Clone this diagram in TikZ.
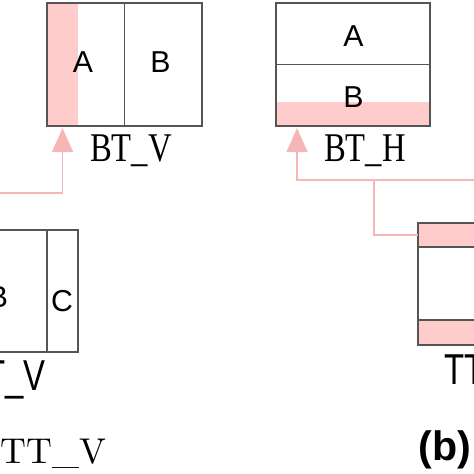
\documentclass[tikz,border=0pt]{standalone}
\usepackage{fontspec}
\usetikzlibrary{arrows.meta}
\newfontfamily\cellfont{Liberation Sans}
\newfontfamily\tagsans[FakeStretch=0.76]{Liberation Sans}
\newfontfamily\tagserif[FakeStretch=0.8]{Liberation Serif}
\definecolor{markpink}{RGB}{255,204,204}
\definecolor{linkpink}{RGB}{246,182,182}
\definecolor{framegray}{RGB}{85,85,85}
\tikzset{
  frame/.style={draw=framegray, line width=0.4pt, inner sep=0pt, outer sep=0pt, anchor=north west},
  tint/.style={fill=markpink, inner sep=0pt, outer sep=0pt, anchor=north west},
  letter/.style={font=\cellfont\fontsize{8.6}{10}\selectfont, inner sep=0pt},
  serif tag/.style={font=\tagserif\fontsize{11.6}{13}\selectfont, inner sep=0pt},
  sans tag/.style={font=\tagsans\fontsize{12.3}{14}\selectfont, inner sep=0pt},
  link/.style={draw=linkpink, line width=0.45pt},
}
\begin{document}
\begin{tikzpicture}[x=0.01cm, y=-0.01cm]
  \useasboundingbox (0,0) rectangle (474,474);
  \clip (0,0) rectangle (474,474);
  \node[tint, minimum width=0.31cm, minimum height=1.23cm] (btvmark) at (47,3) {};
  \node[tint, minimum width=1.54cm, minimum height=0.24cm] (bthmark) at (276,102) {};
  \node[tint, minimum width=1.6cm, minimum height=0.24cm] (tthtop) at (418,223) {};
  \node[tint, minimum width=1.6cm, minimum height=0.25cm] (tthbot) at (418,320) {};
  \node[frame, minimum width=1.55cm, minimum height=1.23cm] (btv) at (47,3) {};
  \node[frame, minimum width=1.54cm, minimum height=1.23cm] (bth) at (276,3) {};
  \node[frame, minimum width=1.58cm, minimum height=1.22cm] (ttv) at (-80,230) {};
  \node[frame, minimum width=1.6cm, minimum height=1.22cm] (tth) at (418,223) {};
  \draw[framegray, line width=0.4pt] (btv.north) -- (btv.south);
  \draw[framegray, line width=0.4pt] (bth.west) -- (bth.east);
  \draw[framegray, line width=0.4pt] (47,230) -- (47,352);
  \draw[framegray, line width=0.4pt] (tthtop.south west) -- (tthtop.south east);
  \draw[framegray, line width=0.4pt] (tthbot.north west) -- (tthbot.north east);
  \foreach \name/\px/\py/\txt in {btvA/83/62/A, btvB/160.5/62.5/B, bthA/353.5/36/A, bthB/353.5/97/B, ttvB/-2/297/B, ttvC/62/301/C}
    \node[letter] (\name) at (\px,\py) {\txt};
  \node[serif tag, anchor=base] (btvtag) at (131,162) {BT\_V};
  \node[serif tag, anchor=base] (bthtag) at (365,162) {BT\_H};
  \node[sans tag, anchor=base east] (ttvtag) at (46,390) {TT\_V};
  \node[sans tag, anchor=base west] (tthtag) at (444,384) {TT\_H};
  \node[font=\fontsize{10.2}{12}\selectfont, inner sep=0pt, anchor=base west] (caption) at (0,463) {TT\_V};
  \node[font=\cellfont\bfseries\fontsize{11.7}{13}\selectfont, inner sep=0pt, anchor=base] (panel) at (445,460) {(b)};
  \coordinate (tailV) at (-10,193);
  \coordinate (join) at (374,180);
  \coordinate (tailR) at (490,180);
  \draw[link, -{Triangle[width=0.21cm,length=0.24cm]}, shorten >=0.02cm] (tailV) -| (btvmark.south);
  \draw[link, -{Triangle[width=0.21cm,length=0.24cm]}, shorten >=0.02cm] (tthtop.west) -| (join) -| ([xshift=0.21cm]bth.south west);
  \draw[link] (join) -- (tailR);
\end{tikzpicture}
\end{document}
